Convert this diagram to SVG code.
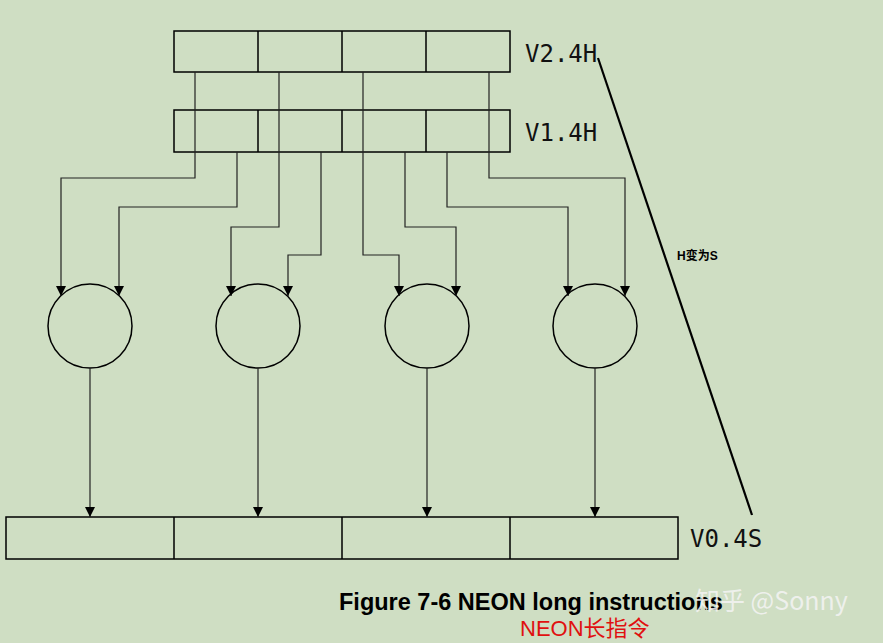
<svg xmlns="http://www.w3.org/2000/svg" width="883" height="643" viewBox="0 0 883 643">
<defs>
<marker id="ah" viewBox="0 0 10 10" refX="10" refY="5" markerWidth="10" markerHeight="10" markerUnits="userSpaceOnUse" orient="auto"><path d="M0,0L10,5L0,10Z" fill="#000"/></marker>
<style>
.box{fill:none;stroke:#000;stroke-width:1.5}
.w{fill:none;stroke:#222;stroke-width:1.2;marker-end:url(#ah)}
.c{fill:none;stroke:#000;stroke-width:1.5}
.lab{font-family:"DejaVu Sans Mono",monospace;font-size:24px;fill:#111}
</style>
</defs>
<rect width="883" height="643" fill="#cfdec3"/>
<g id="V2"><rect class="box" x="174" y="31" width="336" height="41"/><path class="box" d="M258 31V72M342 31V72M426 31V72"/><text class="lab" x="525" y="62">V2.4H</text></g>
<g id="V1"><rect class="box" x="174" y="110" width="336" height="42"/><path class="box" d="M258 110V152M342 110V152M426 110V152"/><text class="lab" x="525" y="141">V1.4H</text></g>
<g id="op1"><circle class="c" cx="90" cy="326" r="42"/></g>
<g id="op2"><circle class="c" cx="258" cy="326" r="42"/></g>
<g id="op3"><circle class="c" cx="427" cy="326" r="42"/></g>
<g id="op4"><circle class="c" cx="595" cy="326" r="42"/></g>
<g id="V0"><rect class="box" x="6" y="517" width="672" height="42"/><path class="box" d="M174 517V559M342 517V559M510 517V559"/><text class="lab" x="690" y="547">V0.4S</text></g>
<g id="connectors">
<path class="w" d="M195 72V178H61V296"/>
<path class="w" d="M237 152V207H119V296"/>
<path class="w" d="M279 72V227H231V296"/>
<path class="w" d="M321 152V255H288V296"/>
<path class="w" d="M363 72V255H399V296"/>
<path class="w" d="M405 152V227H456V296"/>
<path class="w" d="M447 152V207H568V296"/>
<path class="w" d="M489 72V178H625V296"/>
<path class="w" d="M90 368V517"/>
<path class="w" d="M258 368V517"/>
<path class="w" d="M427 368V517"/>
<path class="w" d="M595 368V517"/>
<path d="M598 58L752 515" stroke="#000" stroke-width="2.2" fill="none"/>
</g>
<text x="677" y="260" font-family="'Liberation Sans','Noto Sans CJK SC',sans-serif" font-size="12" font-weight="bold">H变为S</text>
<text x="339" y="610" font-family="'Liberation Sans',sans-serif" font-size="23.5" font-weight="bold">Figure 7-6 NEON long instructions</text>
<text x="695" y="610" font-family="'Noto Sans CJK SC',sans-serif" font-size="25" fill="#f4f4f4" fill-opacity="0.85">知乎 @Sonny</text>
<text x="520" y="636" font-family="'Liberation Sans','Noto Sans CJK SC',sans-serif" font-size="22" fill="#e01010">NEON长指令</text>
</svg>
